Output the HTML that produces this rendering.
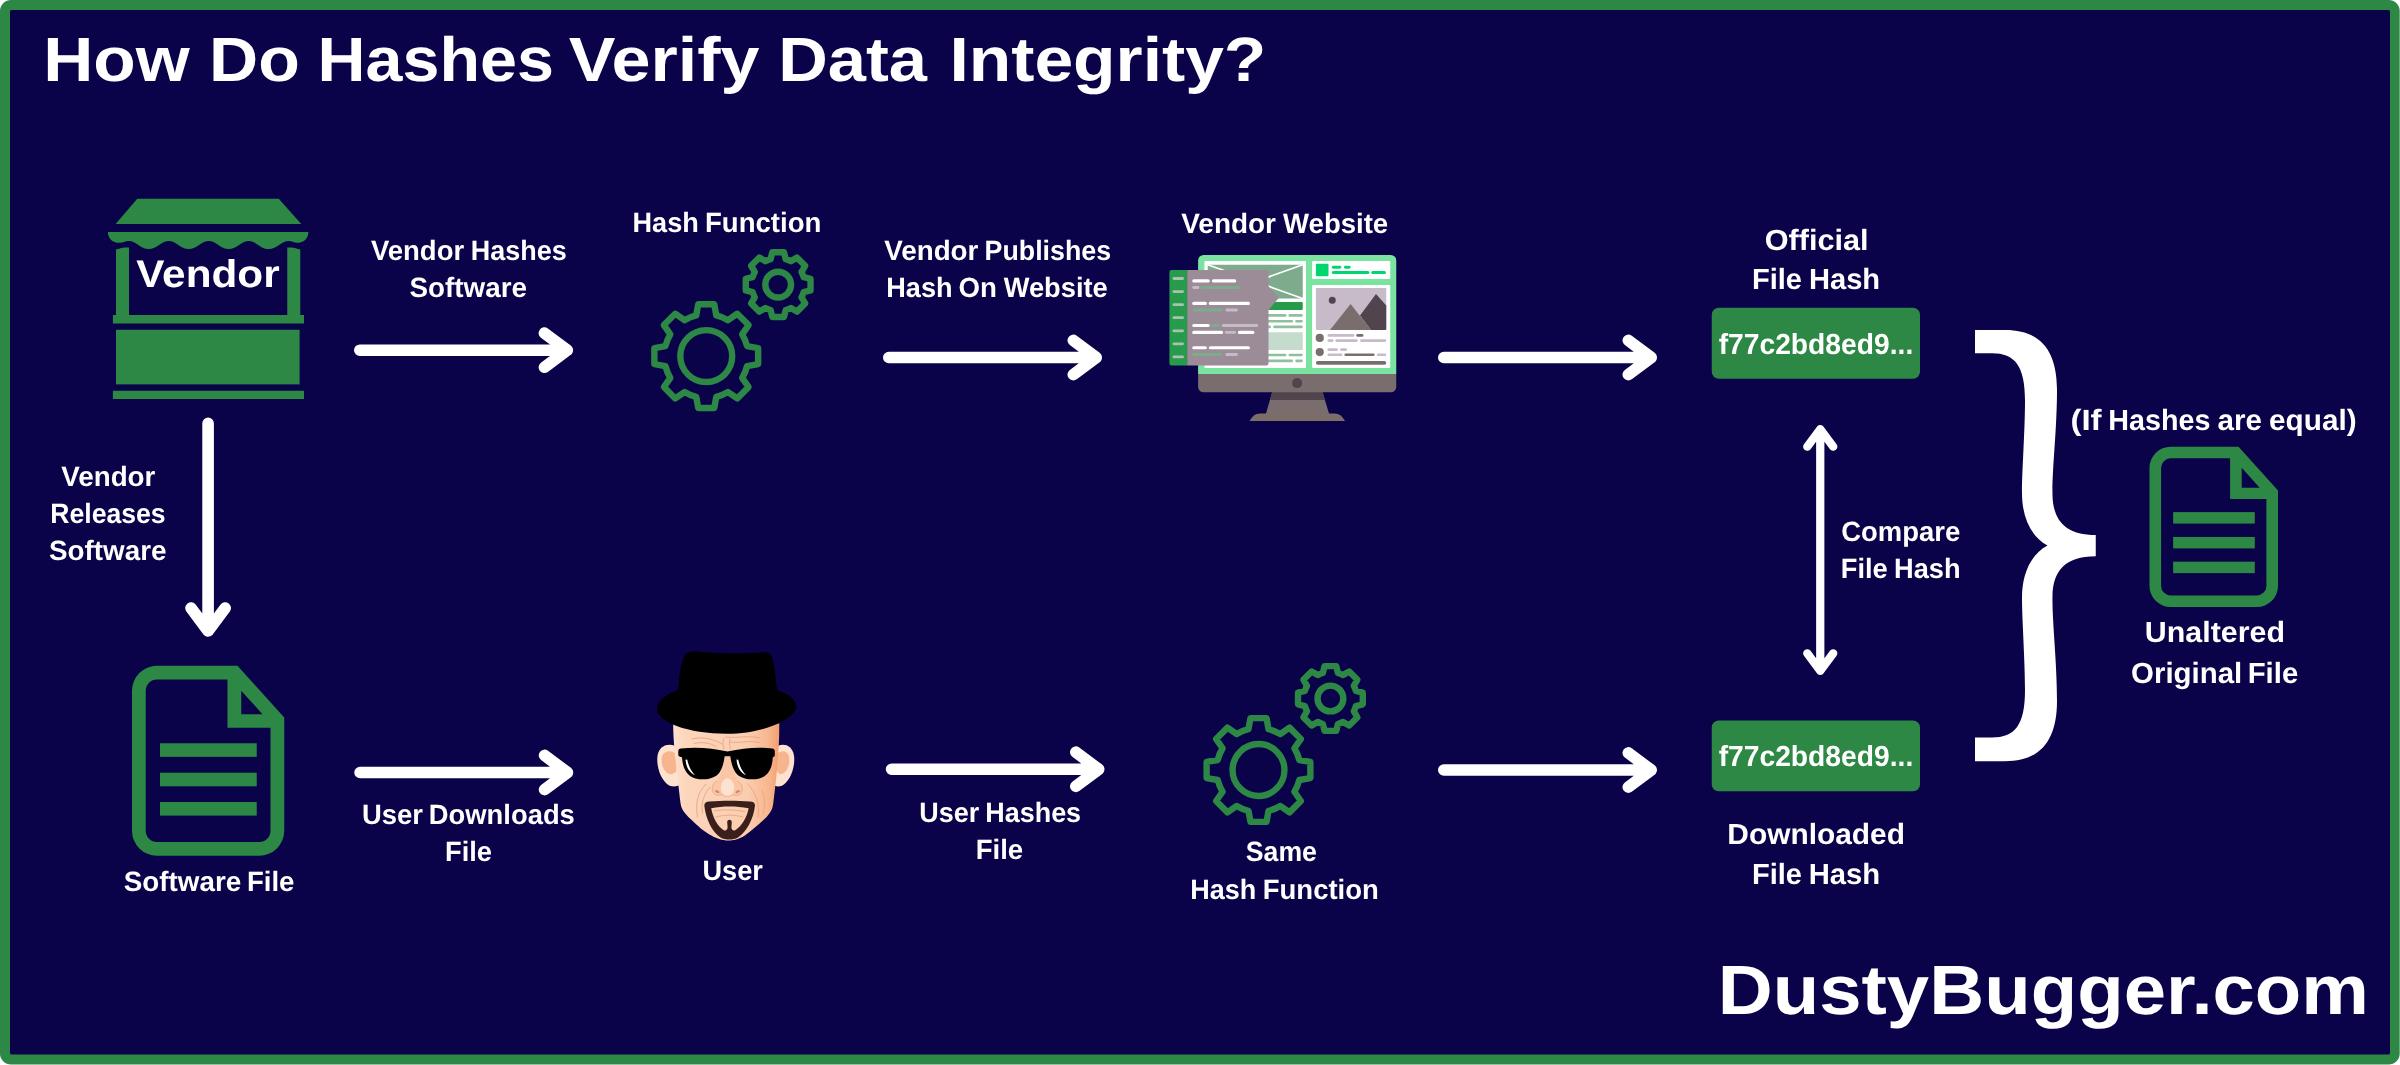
<!DOCTYPE html>
<html lang="en"><head><meta charset="utf-8"><title>How Do Hashes Verify Data Integrity?</title>
<style>
html,body{margin:0;padding:0;background:#fff;}
body{width:2400px;height:1065px;overflow:hidden;}
svg{display:block;will-change:transform;}
text{white-space:pre;text-rendering:geometricPrecision;}
</style></head>
<body>
<svg width="2400" height="1065" viewBox="0 0 2400 1065">
<rect x="0" y="0" width="2399.7" height="1064.4" rx="11" fill="#2c8844"/>
<rect x="10" y="10" width="2380" height="1044.5" rx="1.5" fill="#0a0349"/>
<text y="81.35" font-family="'Liberation Sans', sans-serif" font-weight="700" font-size="62.50" fill="#fff"><tspan x="43.26" textLength="146.50" lengthAdjust="spacingAndGlyphs">How</tspan> <tspan x="209.00" textLength="90.73" lengthAdjust="spacingAndGlyphs">Do</tspan> <tspan x="317.60" textLength="236.34" lengthAdjust="spacingAndGlyphs">Hashes</tspan> <tspan x="568.75" textLength="190.81" lengthAdjust="spacingAndGlyphs">Verify</tspan> <tspan x="778.21" textLength="148.86" lengthAdjust="spacingAndGlyphs">Data</tspan> <tspan x="949.40" textLength="316.96" lengthAdjust="spacingAndGlyphs">Integrity?</tspan></text>
<text y="1014.00" font-family="'Liberation Sans', sans-serif" font-weight="700" font-size="69.77" fill="#fff"><tspan x="1717.74" textLength="651.30" lengthAdjust="spacingAndGlyphs">DustyBugger.com</tspan></text>
<g fill="#2c8844"><path d="M137.25,198.7H278.75L301.25,223.9H115.6Z"/><path d="M107.9,231.9H308.4C308.4,238.5 303.5,242.8 297.3,242.8C293.5,242.8 291.8,241.1 288.75,241.1C281.25,241.1 277.25,249.1 268.75,249.1C260.25,249.1 256.25,241.1 248.75,241.1C241.25,241.1 237.25,249.1 228.75,249.1C220.25,249.1 216.25,241.1 208.75,241.1C201.25,241.1 197.25,249.1 188.75,249.1C180.25,249.1 176.25,241.1 168.75,241.1C161.25,241.1 157.25,249.1 148.75,249.1C140.25,249.1 136.25,241.1 128.75,241.1C125.7,241.1 124,242.8 119,242.8C112.8,242.8 107.9,238.5 107.9,231.9Z"/><path d="M116,249.4C119,249.2 122,247.6 125,247.6H129V316H116Z"/><path d="M300.25,249.4C297.25,249.2 294.25,247.6 291.25,247.6H287.25V316H300.25Z"/><rect x="112.9" y="315" width="191.1" height="8.5"/><rect x="116" y="329.75" width="183.6" height="54.65"/><rect x="112.9" y="390.75" width="191.1" height="8.25"/></g>
<text y="286.50" font-family="'Liberation Sans', sans-serif" font-weight="700" font-size="38.52" fill="#fff"><tspan x="136.25" textLength="143.35" lengthAdjust="spacingAndGlyphs">Vendor</tspan></text>
<path d="M359.80,350.20H567.30M544.40,333.10L567.30,350.20L544.40,367.30" fill="none" stroke="#fff" stroke-width="11.6" stroke-linecap="round" stroke-linejoin="round"/>
<path d="M888.80,357.50H1096.20M1073.30,340.40L1096.20,357.50L1073.30,374.60" fill="none" stroke="#fff" stroke-width="11.6" stroke-linecap="round" stroke-linejoin="round"/>
<path d="M1443.80,357.50H1651.20M1628.30,340.40L1651.20,357.50L1628.30,374.60" fill="none" stroke="#fff" stroke-width="11.6" stroke-linecap="round" stroke-linejoin="round"/>
<path d="M360.05,772.50H567.45M544.55,755.40L567.45,772.50L544.55,789.60" fill="none" stroke="#fff" stroke-width="11.6" stroke-linecap="round" stroke-linejoin="round"/>
<path d="M891.55,769.25H1098.70M1075.80,752.15L1098.70,769.25L1075.80,786.35" fill="none" stroke="#fff" stroke-width="11.6" stroke-linecap="round" stroke-linejoin="round"/>
<path d="M1443.80,770.00H1651.20M1628.30,752.90L1651.20,770.00L1628.30,787.10" fill="none" stroke="#fff" stroke-width="11.6" stroke-linecap="round" stroke-linejoin="round"/>
<path d="M208.10,423.30V630.95M191.00,608.05L208.10,630.95L225.20,608.05" fill="none" stroke="#fff" stroke-width="11.6" stroke-linecap="round" stroke-linejoin="round"/>
<path d="M1820.25,429.12V670.88M1807.25,653.27L1820.25,670.88L1833.25,653.27M1807.25,446.73L1820.25,429.12L1833.25,446.73" fill="none" stroke="#fff" stroke-width="8.25" stroke-linecap="round" stroke-linejoin="round"/>
<text y="260.00" font-family="'Liberation Sans', sans-serif" font-weight="700" font-size="27.90" fill="#fff"><tspan x="371.00" textLength="93.14" lengthAdjust="spacingAndGlyphs">Vendor</tspan> <tspan x="470.82" textLength="95.88" lengthAdjust="spacingAndGlyphs">Hashes</tspan></text>
<text y="296.90" font-family="'Liberation Sans', sans-serif" font-weight="700" font-size="27.90" fill="#fff"><tspan x="409.57" textLength="117.38" lengthAdjust="spacingAndGlyphs">Software</tspan></text>
<text y="231.75" font-family="'Liberation Sans', sans-serif" font-weight="700" font-size="27.90" fill="#fff"><tspan x="632.56" textLength="66.25" lengthAdjust="spacingAndGlyphs">Hash</tspan> <tspan x="705.03" textLength="116.30" lengthAdjust="spacingAndGlyphs">Function</tspan></text>
<text y="260.00" font-family="'Liberation Sans', sans-serif" font-weight="700" font-size="27.90" fill="#fff"><tspan x="884.25" textLength="94.14" lengthAdjust="spacingAndGlyphs">Vendor</tspan> <tspan x="984.58" textLength="126.51" lengthAdjust="spacingAndGlyphs">Publishes</tspan></text>
<text y="297.00" font-family="'Liberation Sans', sans-serif" font-weight="700" font-size="27.90" fill="#fff"><tspan x="886.31" textLength="66.25" lengthAdjust="spacingAndGlyphs">Hash</tspan> <tspan x="958.38" textLength="38.45" lengthAdjust="spacingAndGlyphs">On</tspan> <tspan x="1003.75" textLength="103.93" lengthAdjust="spacingAndGlyphs">Website</tspan></text>
<text y="232.90" font-family="'Liberation Sans', sans-serif" font-weight="700" font-size="27.90" fill="#fff"><tspan x="1181.25" textLength="94.75" lengthAdjust="spacingAndGlyphs">Vendor</tspan> <tspan x="1283.10" textLength="105.09" lengthAdjust="spacingAndGlyphs">Website</tspan></text>
<text y="249.50" font-family="'Liberation Sans', sans-serif" font-weight="700" font-size="29.20" fill="#fff"><tspan x="1764.79" textLength="103.77" lengthAdjust="spacingAndGlyphs">Official</tspan></text>
<text y="289.25" font-family="'Liberation Sans', sans-serif" font-weight="700" font-size="29.20" fill="#fff"><tspan x="1751.93" textLength="50.04" lengthAdjust="spacingAndGlyphs">File</tspan> <tspan x="1808.93" textLength="71.23" lengthAdjust="spacingAndGlyphs">Hash</tspan></text>
<text y="429.50" font-family="'Liberation Sans', sans-serif" font-weight="700" font-size="29.20" fill="#fff"><tspan x="2070.45" textLength="31.19" lengthAdjust="spacingAndGlyphs">(If</tspan> <tspan x="2108.20" textLength="102.21" lengthAdjust="spacingAndGlyphs">Hashes</tspan> <tspan x="2217.54" textLength="44.45" lengthAdjust="spacingAndGlyphs">are</tspan> <tspan x="2269.07" textLength="87.50" lengthAdjust="spacingAndGlyphs">equal)</tspan></text>
<text y="642.00" font-family="'Liberation Sans', sans-serif" font-weight="700" font-size="29.20" fill="#fff"><tspan x="2144.83" textLength="140.12" lengthAdjust="spacingAndGlyphs">Unaltered</tspan></text>
<text y="682.50" font-family="'Liberation Sans', sans-serif" font-weight="700" font-size="29.20" fill="#fff"><tspan x="2131.08" textLength="111.16" lengthAdjust="spacingAndGlyphs">Original</tspan> <tspan x="2247.67" textLength="50.57" lengthAdjust="spacingAndGlyphs">File</tspan></text>
<text y="540.75" font-family="'Liberation Sans', sans-serif" font-weight="700" font-size="27.90" fill="#fff"><tspan x="1841.14" textLength="119.04" lengthAdjust="spacingAndGlyphs">Compare</tspan></text>
<text y="578.00" font-family="'Liberation Sans', sans-serif" font-weight="700" font-size="27.90" fill="#fff"><tspan x="1840.80" textLength="46.88" lengthAdjust="spacingAndGlyphs">File</tspan> <tspan x="1894.05" textLength="66.51" lengthAdjust="spacingAndGlyphs">Hash</tspan></text>
<text y="486.25" font-family="'Liberation Sans', sans-serif" font-weight="700" font-size="27.90" fill="#fff"><tspan x="61.25" textLength="94.14" lengthAdjust="spacingAndGlyphs">Vendor</tspan></text>
<text y="523.25" font-family="'Liberation Sans', sans-serif" font-weight="700" font-size="27.90" fill="#fff"><tspan x="50.34" textLength="115.24" lengthAdjust="spacingAndGlyphs">Releases</tspan></text>
<text y="560.00" font-family="'Liberation Sans', sans-serif" font-weight="700" font-size="27.90" fill="#fff"><tspan x="49.07" textLength="117.38" lengthAdjust="spacingAndGlyphs">Software</tspan></text>
<text y="890.50" font-family="'Liberation Sans', sans-serif" font-weight="700" font-size="27.90" fill="#fff"><tspan x="123.82" textLength="117.38" lengthAdjust="spacingAndGlyphs">Software</tspan> <tspan x="247.03" textLength="47.41" lengthAdjust="spacingAndGlyphs">File</tspan></text>
<text y="824.25" font-family="'Liberation Sans', sans-serif" font-weight="700" font-size="27.90" fill="#fff"><tspan x="361.97" textLength="60.92" lengthAdjust="spacingAndGlyphs">User</tspan> <tspan x="428.79" textLength="146.07" lengthAdjust="spacingAndGlyphs">Downloads</tspan></text>
<text y="861.25" font-family="'Liberation Sans', sans-serif" font-weight="700" font-size="27.90" fill="#fff"><tspan x="445.05" textLength="46.88" lengthAdjust="spacingAndGlyphs">File</tspan></text>
<text y="880.00" font-family="'Liberation Sans', sans-serif" font-weight="700" font-size="27.90" fill="#fff"><tspan x="702.48" textLength="60.41" lengthAdjust="spacingAndGlyphs">User</tspan></text>
<text y="821.75" font-family="'Liberation Sans', sans-serif" font-weight="700" font-size="27.90" fill="#fff"><tspan x="919.24" textLength="59.89" lengthAdjust="spacingAndGlyphs">User</tspan> <tspan x="985.32" textLength="95.77" lengthAdjust="spacingAndGlyphs">Hashes</tspan></text>
<text y="858.75" font-family="'Liberation Sans', sans-serif" font-weight="700" font-size="27.90" fill="#fff"><tspan x="975.78" textLength="47.41" lengthAdjust="spacingAndGlyphs">File</tspan></text>
<text y="861.25" font-family="'Liberation Sans', sans-serif" font-weight="700" font-size="27.90" fill="#fff"><tspan x="1245.83" textLength="71.08" lengthAdjust="spacingAndGlyphs">Same</tspan></text>
<text y="898.75" font-family="'Liberation Sans', sans-serif" font-weight="700" font-size="27.90" fill="#fff"><tspan x="1190.31" textLength="65.99" lengthAdjust="spacingAndGlyphs">Hash</tspan> <tspan x="1262.78" textLength="116.05" lengthAdjust="spacingAndGlyphs">Function</tspan></text>
<text y="843.75" font-family="'Liberation Sans', sans-serif" font-weight="700" font-size="29.20" fill="#fff"><tspan x="1727.38" textLength="177.53" lengthAdjust="spacingAndGlyphs">Downloaded</tspan></text>
<text y="883.75" font-family="'Liberation Sans', sans-serif" font-weight="700" font-size="29.20" fill="#fff"><tspan x="1751.93" textLength="50.04" lengthAdjust="spacingAndGlyphs">File</tspan> <tspan x="1808.67" textLength="71.49" lengthAdjust="spacingAndGlyphs">Hash</tspan></text>
<path d="M696.23,315.31L698.22,304.22L714.28,304.22L716.27,315.31A42.00,42.00 0 0 1 728.01,320.17L737.26,313.73L748.62,325.09L742.18,334.34A42.00,42.00 0 0 1 747.04,346.08L758.13,348.07L758.13,364.13L747.04,366.12A42.00,42.00 0 0 1 742.18,377.86L748.62,387.11L737.26,398.47L728.01,392.03A42.00,42.00 0 0 1 716.27,396.89L714.28,407.98L698.22,407.98L696.23,396.89A42.00,42.00 0 0 1 684.49,392.03L675.24,398.47L663.88,387.11L670.32,377.86A42.00,42.00 0 0 1 665.46,366.12L654.37,364.13L654.37,348.07L665.46,346.08A42.00,42.00 0 0 1 670.32,334.34L663.88,325.09L675.24,313.73L684.49,320.17A42.00,42.00 0 0 1 696.23,315.31Z" fill="none" stroke="#2c8844" stroke-width="6.4" stroke-linejoin="round"/>
<circle cx="706.25" cy="356.1" r="25.95" fill="none" stroke="#2c8844" stroke-width="6.4"/>
<path d="M770.60,259.10L772.32,252.22L783.98,252.22L785.70,259.10A26.60,26.60 0 0 1 790.84,261.22L796.93,257.58L805.17,265.82L801.53,271.91A26.60,26.60 0 0 1 803.65,277.05L810.53,278.77L810.53,290.43L803.65,292.15A26.60,26.60 0 0 1 801.53,297.29L805.17,303.38L796.93,311.62L790.84,307.98A26.60,26.60 0 0 1 785.70,310.10L783.98,316.98L772.32,316.98L770.60,310.10A26.60,26.60 0 0 1 765.46,307.98L759.37,311.62L751.13,303.38L754.77,297.29A26.60,26.60 0 0 1 752.65,292.15L745.77,290.43L745.77,278.77L752.65,277.05A26.60,26.60 0 0 1 754.77,271.91L751.13,265.82L759.37,257.58L765.46,261.22A26.60,26.60 0 0 1 770.60,259.10Z" fill="none" stroke="#2c8844" stroke-width="6.4" stroke-linejoin="round"/>
<circle cx="778.15" cy="284.6" r="12.9" fill="none" stroke="#2c8844" stroke-width="6.4"/>
<path d="M1248.48,729.21L1250.47,718.12L1266.53,718.12L1268.52,729.21A42.00,42.00 0 0 1 1280.26,734.07L1289.51,727.63L1300.87,738.99L1294.43,748.24A42.00,42.00 0 0 1 1299.29,759.98L1310.38,761.97L1310.38,778.03L1299.29,780.02A42.00,42.00 0 0 1 1294.43,791.76L1300.87,801.01L1289.51,812.37L1280.26,805.93A42.00,42.00 0 0 1 1268.52,810.79L1266.53,821.88L1250.47,821.88L1248.48,810.79A42.00,42.00 0 0 1 1236.74,805.93L1227.49,812.37L1216.13,801.01L1222.57,791.76A42.00,42.00 0 0 1 1217.71,780.02L1206.62,778.03L1206.62,761.97L1217.71,759.98A42.00,42.00 0 0 1 1222.57,748.24L1216.13,738.99L1227.49,727.63L1236.74,734.07A42.00,42.00 0 0 1 1248.48,729.21Z" fill="none" stroke="#2c8844" stroke-width="6.4" stroke-linejoin="round"/>
<circle cx="1258.5" cy="770" r="25.95" fill="none" stroke="#2c8844" stroke-width="6.4"/>
<path d="M1322.85,673.00L1324.57,666.12L1336.23,666.12L1337.95,673.00A26.60,26.60 0 0 1 1343.09,675.12L1349.18,671.48L1357.42,679.72L1353.78,685.81A26.60,26.60 0 0 1 1355.90,690.95L1362.78,692.67L1362.78,704.33L1355.90,706.05A26.60,26.60 0 0 1 1353.78,711.19L1357.42,717.28L1349.18,725.52L1343.09,721.88A26.60,26.60 0 0 1 1337.95,724.00L1336.23,730.88L1324.57,730.88L1322.85,724.00A26.60,26.60 0 0 1 1317.71,721.88L1311.62,725.52L1303.38,717.28L1307.02,711.19A26.60,26.60 0 0 1 1304.90,706.05L1298.02,704.33L1298.02,692.67L1304.90,690.95A26.60,26.60 0 0 1 1307.02,685.81L1303.38,679.72L1311.62,671.48L1317.71,675.12A26.60,26.60 0 0 1 1322.85,673.00Z" fill="none" stroke="#2c8844" stroke-width="6.4" stroke-linejoin="round"/>
<circle cx="1330.4" cy="698.5" r="12.9" fill="none" stroke="#2c8844" stroke-width="6.4"/>
<rect x="1711.75" y="307.8" width="208.25" height="70.9" rx="7" fill="#2c8844"/>
<text y="353.80" font-family="'Liberation Sans', sans-serif" font-weight="700" font-size="29.00" fill="#fff"><tspan x="1718.66" textLength="194.61" lengthAdjust="spacingAndGlyphs">f77c2bd8ed9...</tspan></text>
<rect x="1711.75" y="720.4" width="208.25" height="70.9" rx="7" fill="#2c8844"/>
<text y="766.40" font-family="'Liberation Sans', sans-serif" font-weight="700" font-size="29.00" fill="#fff"><tspan x="1718.66" textLength="194.61" lengthAdjust="spacingAndGlyphs">f77c2bd8ed9...</tspan></text>
<g fill="#2c8844"><path fill-rule="evenodd" d="M157,665.75H237.5L284.25,717.5V830.75A25,25 0 0 1 259.25,855.75H157A25,25 0 0 1 132,830.75V690.75A25,25 0 0 1 157,665.75ZM157,679.5A11.25,11.25 0 0 0 145.75,690.75V830.75A11.25,11.25 0 0 0 157,842H259.25A11.25,11.25 0 0 0 270.5,830.75V727.75H227.5V679.5ZM241.25,690.75V714.25H262.5Z"/><rect x="160" y="743.25" width="96.75" height="13.6"/><rect x="160" y="772.7" width="96.75" height="13.6"/><rect x="160" y="802" width="96.75" height="13.6"/></g>
<g fill="#2c8844" transform="translate(2149.5,446.75) scale(0.844,0.8434) translate(-132,-665.75)"><path fill-rule="evenodd" d="M157,665.75H237.5L284.25,717.5V830.75A25,25 0 0 1 259.25,855.75H157A25,25 0 0 1 132,830.75V690.75A25,25 0 0 1 157,665.75ZM157,679.5A11.25,11.25 0 0 0 145.75,690.75V830.75A11.25,11.25 0 0 0 157,842H259.25A11.25,11.25 0 0 0 270.5,830.75V727.75H227.5V679.5ZM241.25,690.75V714.25H262.5Z"/><rect x="160" y="743.25" width="96.75" height="13.6"/><rect x="160" y="772.7" width="96.75" height="13.6"/><rect x="160" y="802" width="96.75" height="13.6"/></g>
<path fill="#fff" d="M1975,330H2005C2040,330 2057,350 2057,390C2057,430 2052,470 2052.5,495C2053,520 2065,535 2095.75,535V556.25C2065,556.25 2053,571 2052.5,596C2052,621 2057,661 2057,701C2057,741 2040,761.25 2005,761.25H1975V737.5H1992C2015,737.5 2025,725 2025,690C2025,660 2022,620 2022,598C2022,575 2030,555 2047.5,545.6C2030,536 2022,516 2022,493C2022,471 2025,431 2025,401C2025,366 2015,353.25 1992,353.25H1975Z"/>
<g><path d="M1272.25,392H1322.5L1329,413.5V414.5H1266V413.5Z" fill="#7a6d6e"/><path d="M1272.25,392H1322.5L1324.9,400H1269.9Z" fill="#52444c"/><path d="M1249.6,421C1252,416.5 1255,413.5 1260,413.5H1334.5C1339.5,413.5 1342.5,416.5 1345,421Z" fill="#7b6d68"/><path d="M1198.1,374V260.5A5.5,5.5 0 0 1 1203.6,255H1390.75A5.5,5.5 0 0 1 1396.25,260.5V374Z" fill="#7be3a0"/><path d="M1198.1,374H1396.25V386.75A5.5,5.5 0 0 1 1390.75,392.25H1203.6A5.5,5.5 0 0 1 1198.1,386.75Z" fill="#7a6d6e"/><circle cx="1297.1" cy="383.1" r="5" fill="#52444c"/><rect x="1204.4" y="261" width="101.6" height="107.1" rx="1" fill="#fff"/><rect x="1207.75" y="264.75" width="95" height="33.75" fill="#7dab8b"/><path d="M1207.75,264.75L1302.75,298.5M1302.75,264.75L1207.75,298.5" stroke="#fff" stroke-width="1.8" fill="none"/><rect x="1207.75" y="302.1" width="95" height="7.9" rx="1" fill="#279a4c"/><path d="M1209.05,315.4H1285.20" stroke="#8fbf9f" stroke-width="2.6" stroke-linecap="round" fill="none"/><path d="M1289.80,315.4H1301.45" stroke="#8fbf9f" stroke-width="2.6" stroke-linecap="round" fill="none"/><path d="M1209.05,355.0H1285.20" stroke="#8fbf9f" stroke-width="2.6" stroke-linecap="round" fill="none"/><path d="M1289.80,355.0H1301.45" stroke="#8fbf9f" stroke-width="2.6" stroke-linecap="round" fill="none"/><path d="M1209.05,321.25H1291.70" stroke="#8fbf9f" stroke-width="2.6" stroke-linecap="round" fill="none"/><path d="M1296.60,321.25H1301.45" stroke="#8fbf9f" stroke-width="2.6" stroke-linecap="round" fill="none"/><path d="M1209.05,360.9H1291.70" stroke="#8fbf9f" stroke-width="2.6" stroke-linecap="round" fill="none"/><path d="M1296.60,360.9H1301.45" stroke="#8fbf9f" stroke-width="2.6" stroke-linecap="round" fill="none"/><path d="M1209.05,326.9H1269.70" stroke="#8fbf9f" stroke-width="2.6" stroke-linecap="round" fill="none"/><path d="M1274.50,326.9H1301.45" stroke="#8fbf9f" stroke-width="2.6" stroke-linecap="round" fill="none"/><rect x="1207.75" y="332.25" width="95" height="17.75" fill="#c5dbcb"/><rect x="1312.1" y="261" width="78.15" height="18" rx="1" fill="#fff"/><rect x="1315.9" y="263.75" width="12.6" height="12.5" rx="1" fill="#00d66f"/><path d="M1333.30,267.25H1339.85" stroke="#00d66f" stroke-width="2.8" stroke-linecap="round" fill="none"/><path d="M1345.40,267.25H1349.20" stroke="#00d66f" stroke-width="2.8" stroke-linecap="round" fill="none"/><path d="M1333.40,272.5H1367.90" stroke="#00d66f" stroke-width="3.0" stroke-linecap="round" fill="none"/><path d="M1372.75,272.5H1384.50" stroke="#00d66f" stroke-width="3.0" stroke-linecap="round" fill="none"/><rect x="1312.1" y="285" width="78.15" height="83.1" rx="1" fill="#fff"/><rect x="1315.9" y="288.1" width="70.35" height="41.9" rx="1" fill="#c7bbca"/><path d="M1376,294L1386.25,305.6V329A1,1 0 0 1 1385.25,330H1371L1360,315.6Z" fill="#52444c"/><path d="M1350.6,304L1371,330H1330Z" fill="#7a6d6e"/><circle cx="1332.25" cy="300.25" r="3.5" fill="#52444c"/><circle cx="1319.75" cy="337.9" r="4.1" fill="#7a6d6e"/><circle cx="1319.75" cy="352.1" r="4.1" fill="#7a6d6e"/><path d="M1328.80,335.4H1353.10" stroke="#c7bbca" stroke-width="2.6" stroke-linecap="round" fill="none"/><path d="M1357.55,335.4H1362.10" stroke="#7a6d6e" stroke-width="2.6" stroke-linecap="round" fill="none"/><path d="M1328.80,340.6H1332.20" stroke="#c7bbca" stroke-width="2.6" stroke-linecap="round" fill="none"/><path d="M1336.70,340.6H1356.45" stroke="#c7bbca" stroke-width="2.6" stroke-linecap="round" fill="none"/><path d="M1361.30,340.6H1384.95" stroke="#c7bbca" stroke-width="2.6" stroke-linecap="round" fill="none"/><path d="M1328.80,349.6H1336.60" stroke="#c7bbca" stroke-width="2.6" stroke-linecap="round" fill="none"/><path d="M1341.30,349.6H1345.80" stroke="#c7bbca" stroke-width="2.6" stroke-linecap="round" fill="none"/><path d="M1328.80,354.75H1341.20" stroke="#c7bbca" stroke-width="2.6" stroke-linecap="round" fill="none"/><path d="M1345.70,354.75H1373.30" stroke="#7a6d6e" stroke-width="2.6" stroke-linecap="round" fill="none"/><path d="M1378.20,354.75H1384.95" stroke="#c7bbca" stroke-width="2.6" stroke-linecap="round" fill="none"/><path d="M1317.80,362.8H1384.35" stroke="#7a6d6e" stroke-width="3.8" stroke-linecap="round" fill="none"/><path d="M1187.1,270H1266.5A2,2 0 0 1 1268.5,272V286.25L1278.75,298L1268.5,310V363.4A2,2 0 0 1 1266.5,365.4H1187.1Z" fill="#9b8c97"/><path d="M1171.4,270H1187.1V365.4H1171.4A2,2 0 0 1 1169.4,363.4V272A2,2 0 0 1 1171.4,270Z" fill="#279a4c"/><path d="M1173.90,278.5H1182.60" stroke="#a8c4af" stroke-width="2.8" stroke-linecap="round" fill="none"/><path d="M1173.90,291.57H1182.60" stroke="#a8c4af" stroke-width="2.8" stroke-linecap="round" fill="none"/><path d="M1173.90,304.64H1182.60" stroke="#a8c4af" stroke-width="2.8" stroke-linecap="round" fill="none"/><path d="M1173.90,317.71H1182.60" stroke="#a8c4af" stroke-width="2.8" stroke-linecap="round" fill="none"/><path d="M1173.90,330.78H1182.60" stroke="#a8c4af" stroke-width="2.8" stroke-linecap="round" fill="none"/><path d="M1173.90,343.85H1182.60" stroke="#a8c4af" stroke-width="2.8" stroke-linecap="round" fill="none"/><path d="M1173.90,356.92H1182.60" stroke="#a8c4af" stroke-width="2.8" stroke-linecap="round" fill="none"/><path d="M1193.85,280.9H1208.15" stroke="#fff" stroke-width="3.2" stroke-linecap="round" fill="none"/><path d="M1213.50,280.9H1234.65" stroke="#fff" stroke-width="3.2" stroke-linecap="round" fill="none"/><path d="M1193.65,287.5H1198.00" stroke="#c7bbca" stroke-width="2.8" stroke-linecap="round" fill="none"/><path d="M1202.00,287.5H1239.20" stroke="#7dab8b" stroke-width="2.8" stroke-linecap="round" fill="none"/><path d="M1193.85,303.4H1205.30" stroke="#fff" stroke-width="3.2" stroke-linecap="round" fill="none"/><path d="M1210.35,303.4H1248.40" stroke="#fff" stroke-width="3.2" stroke-linecap="round" fill="none"/><path d="M1193.65,310H1221.10" stroke="#7dab8b" stroke-width="2.8" stroke-linecap="round" fill="none"/><path d="M1226.80,310H1236.50" stroke="#c7bbca" stroke-width="2.8" stroke-linecap="round" fill="none"/><path d="M1193.85,325.5H1208.15" stroke="#fff" stroke-width="3.2" stroke-linecap="round" fill="none"/><path d="M1212.90,325.5H1218.35" stroke="#7dab8b" stroke-width="2.8" stroke-linecap="round" fill="none"/><path d="M1223.30,325.5H1256.70" stroke="#c7bbca" stroke-width="2.8" stroke-linecap="round" fill="none"/><path d="M1193.85,332.4H1221.50" stroke="#fff" stroke-width="3.2" stroke-linecap="round" fill="none"/><path d="M1226.15,332.4H1234.60" stroke="#c7bbca" stroke-width="2.8" stroke-linecap="round" fill="none"/><path d="M1239.50,332.4H1252.80" stroke="#fff" stroke-width="3.2" stroke-linecap="round" fill="none"/><path d="M1193.85,347.75H1205.30" stroke="#fff" stroke-width="3.2" stroke-linecap="round" fill="none"/><path d="M1210.35,347.75H1248.40" stroke="#fff" stroke-width="3.2" stroke-linecap="round" fill="none"/><path d="M1193.65,354.5H1221.10" stroke="#7dab8b" stroke-width="2.8" stroke-linecap="round" fill="none"/><path d="M1226.80,354.5H1236.50" stroke="#c7bbca" stroke-width="2.8" stroke-linecap="round" fill="none"/></g>
<g><defs><linearGradient id="skin" x1="0" y1="0" x2="1" y2="0"><stop offset="0" stop-color="#fde0cc"/><stop offset="0.12" stop-color="#fcd6bc"/><stop offset="0.7" stop-color="#fbcdb0"/><stop offset="0.9" stop-color="#f8b68e"/><stop offset="1" stop-color="#f29f70"/></linearGradient></defs><path d="M680,749C672,742 660,743.5 657.6,755C656,765 660,778 667,784C672,788 678,786.5 681,784Z" fill="#fde2d0"/><path d="M773,749C781,742 791.5,743.5 793.9,755C795.5,765 791.5,778 784.5,784C779.5,788 775,786.5 772,784Z" fill="#fde2d0"/><path d="M676.5,754C671,749.5 663,750.5 661.7,758C661,765 664,772 669,774C672,775 675,773 676.5,771Z" fill="#f6ad82" opacity="0.85"/><path d="M777,754C782,749.5 788,750.5 789.2,758C790,765 787,772 782,774C779.5,775 778,773 777,771Z" fill="#f6ad82" opacity="0.85"/><path d="M673.2,722H779.2C779.8,745 776.5,778 773.3,803C772.5,810 770,813.5 764.8,818.8C759,824.5 752,830 745.2,835.3C739,839.5 733,840.5 728.1,840.5C723,840.5 716,838.5 708.6,834C702,830 695,823.5 690.3,818.8C685,813.5 681.5,810 680.5,803C678,780 672.8,745 673.2,722Z" fill="url(#skin)"/><path d="M692,739C700,736.5 712,738 722,744M694,743.5C702,741.5 710,743 716,746.5M726,737C738,738.5 748,735 760,738M730,742C740,743.5 750,740 759,742.5M724,738C722.5,742 723,746 724,749M730,739C729,743 729.5,746 730.5,749" stroke="#e9a583" stroke-width="0.9" fill="none" stroke-linecap="round"/><path d="M706,784C698,792 695,803 697.5,817M710,787C703,795 701,804 702.5,813M748,784C756,793 760,804 758,817M762,790C765,798 765,806 763,814" stroke="#e9a583" stroke-width="0.9" fill="none" stroke-linecap="round"/><path d="M722.5,757C722.5,768 720.5,776 717.5,781C713.5,782.5 711.5,786.5 712.5,791C714,795.5 719,796 722,794.5C725,797 730,797 733,794.5C736,796 741,795.5 742,791C743,786.5 741,782.5 737.5,781C734.5,776 732.5,768 732.5,757Z" fill="#fbc6a5"/><ellipse cx="727.5" cy="787.5" rx="6.6" ry="9.2" fill="#fde2d0"/><ellipse cx="717.3" cy="791.6" rx="2.3" ry="1.3" fill="#c98a72" transform="rotate(20 717.3 791.6)"/><ellipse cx="737.7" cy="791.6" rx="2.3" ry="1.3" fill="#c98a72" transform="rotate(-20 737.7 791.6)"/><path d="M717.5,781C713.5,782.5 711.5,786.5 712.5,791C714,795.5 719,796 722,794.5C725,797 730,797 733,794.5C736,796 741,795.5 742,791C743,786.5 741,782.5 737.5,781" stroke="#e9a583" stroke-width="0.8" fill="none"/><path d="M714,811C722,809.5 734,809.5 745,811.5M716,817C724,814.5 734,814.5 743,817" stroke="#e9a583" stroke-width="0.9" fill="none" stroke-linecap="round"/><path d="M678.3,751.2C678.3,749.6 679.4,748.7 681,748.6C697,746.6 712,748.2 727.5,751.5C743,748.2 757,746.6 772.2,748.4C773.8,748.6 774.8,749.6 774.8,751.2V755.2C774.8,756.3 774,757 772.8,757.2C772.3,768 768.5,776 759.5,778.4C750,780.8 739.5,778.5 735.5,772.5C732.5,768 731.2,762.5 730.3,756.2H724.7C723.8,762.5 722.5,768 719.5,772.5C715.5,778.5 705,780.8 695.5,778.4C686.5,776 682.6,768 682,757.2C680.4,757 678.3,756.3 678.3,755.2Z" fill="#000"/><path d="M685.5,759.5C686,766.5 689,772.5 695,775.3C691,771 688.5,766 687.3,759.7Z" fill="#fff"/><path d="M736.5,759.5C737,766.5 740,772.5 746,775.3C742,771 739.5,766 738.3,759.7Z" fill="#fff"/><path fill-rule="evenodd" d="M704.3,805.5C704.3,803 706.3,801.6 709.3,801.6C722,800.6 737,800.6 750,801.6C753,801.6 755,803 755,805.5C753.5,819 746.5,832 738,837.5C733,840.2 725.5,840.2 720.5,837.5C712,832 705.8,819 704.3,805.5ZM711.2,808.3C712.8,817.5 717.5,826.5 723.8,830.2C726,831.2 727.6,829.5 727.6,827L727.2,822.3C727.2,819 731.8,819 731.8,822.3L731.4,827C731.4,829.5 733,831.2 735.2,830.2C741.5,826.5 747,817.5 748.6,808.3C736,806 723,806 711.2,808.3Z" fill="#3b1f1b"/><path d="M657,709C657,702 664,694.5 678,690C679,676 681,664 684,656.5C686,651.5 692,650.8 700,651.8C715,653.8 745,653.8 760,652.5C768,651.8 771,653.5 772.5,658C775,668 776,680 777,690C789,694 796.25,700 796.25,706.5C796.25,718 766,733.75 727,733.75C688,733.75 657,722 657,709Z" fill="#000"/></g>
</svg>
</body></html>
